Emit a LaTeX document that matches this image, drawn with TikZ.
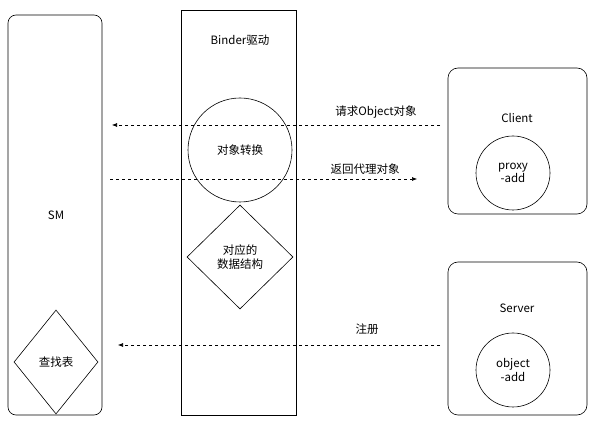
\documentclass[tikz,border=0pt]{standalone}
\usepackage{fontspec}
\setmainfont{Noto Sans CJK SC}
\usetikzlibrary{shapes.geometric,arrows.meta}
\begin{document}
\begin{tikzpicture}[x=1pt,y=-1pt,
  box/.style={draw,line width=0.6pt},
  lbl/.style={font=\fontsize{11.5}{13.5}\selectfont},
  conn/.style={dashed,line width=0.6pt,-{Latex[length=5pt,width=4pt]}}]
\useasboundingbox (0,0) rectangle (600,427);
\draw[box,rounded corners=8pt] (8,15) rectangle (102,415);
\draw[box] (181,10) rectangle (296,415);
\draw[box,rounded corners=10pt] (448,68) rectangle (587,214);
\draw[box,rounded corners=10pt] (448,262) rectangle (587,415);
\node[lbl] (binder) at (240,40) {Binder驱动};
\node[lbl] (sm) at (56,215) {SM};
\node[lbl] (client) at (517,118) {Client};
\node[lbl] (server) at (517,308) {Server};
\node[box,circle,minimum size=104pt,lbl] (conv) at (240,150) {对象转换};
\node[box,diamond,minimum width=106pt,minimum height=104pt,inner sep=0pt,lbl,align=center] (ds) at (240,257) {对应的\\数据结构};
\node[box,diamond,minimum width=84pt,minimum height=104pt,inner sep=0pt,lbl] (tbl) at (56,362) {查找表};
\node[box,circle,minimum size=74pt,lbl,align=center,inner sep=0pt] (proxy) at (513,173) {proxy\\-add};
\node[box,circle,minimum size=74pt,lbl,align=center,inner sep=0pt] (obj) at (513,370) {object\\-add};
\coordinate (a1) at (440,125); \coordinate (b1) at (112,125);
\coordinate (a2) at (110,179); \coordinate (b2) at (417,179);
\coordinate (a3) at (440,345); \coordinate (b3) at (118,345);
\draw[conn] (a1) -- (b1);
\draw[conn] (a2) -- (b2);
\draw[conn] (a3) -- (b3);
\node[lbl] (l1) at (376,112) {请求Object对象};
\node[lbl] (l2) at (365,169) {返回代理对象};
\node[lbl] (l3) at (367,329) {注册};
\end{tikzpicture}
\end{document}
